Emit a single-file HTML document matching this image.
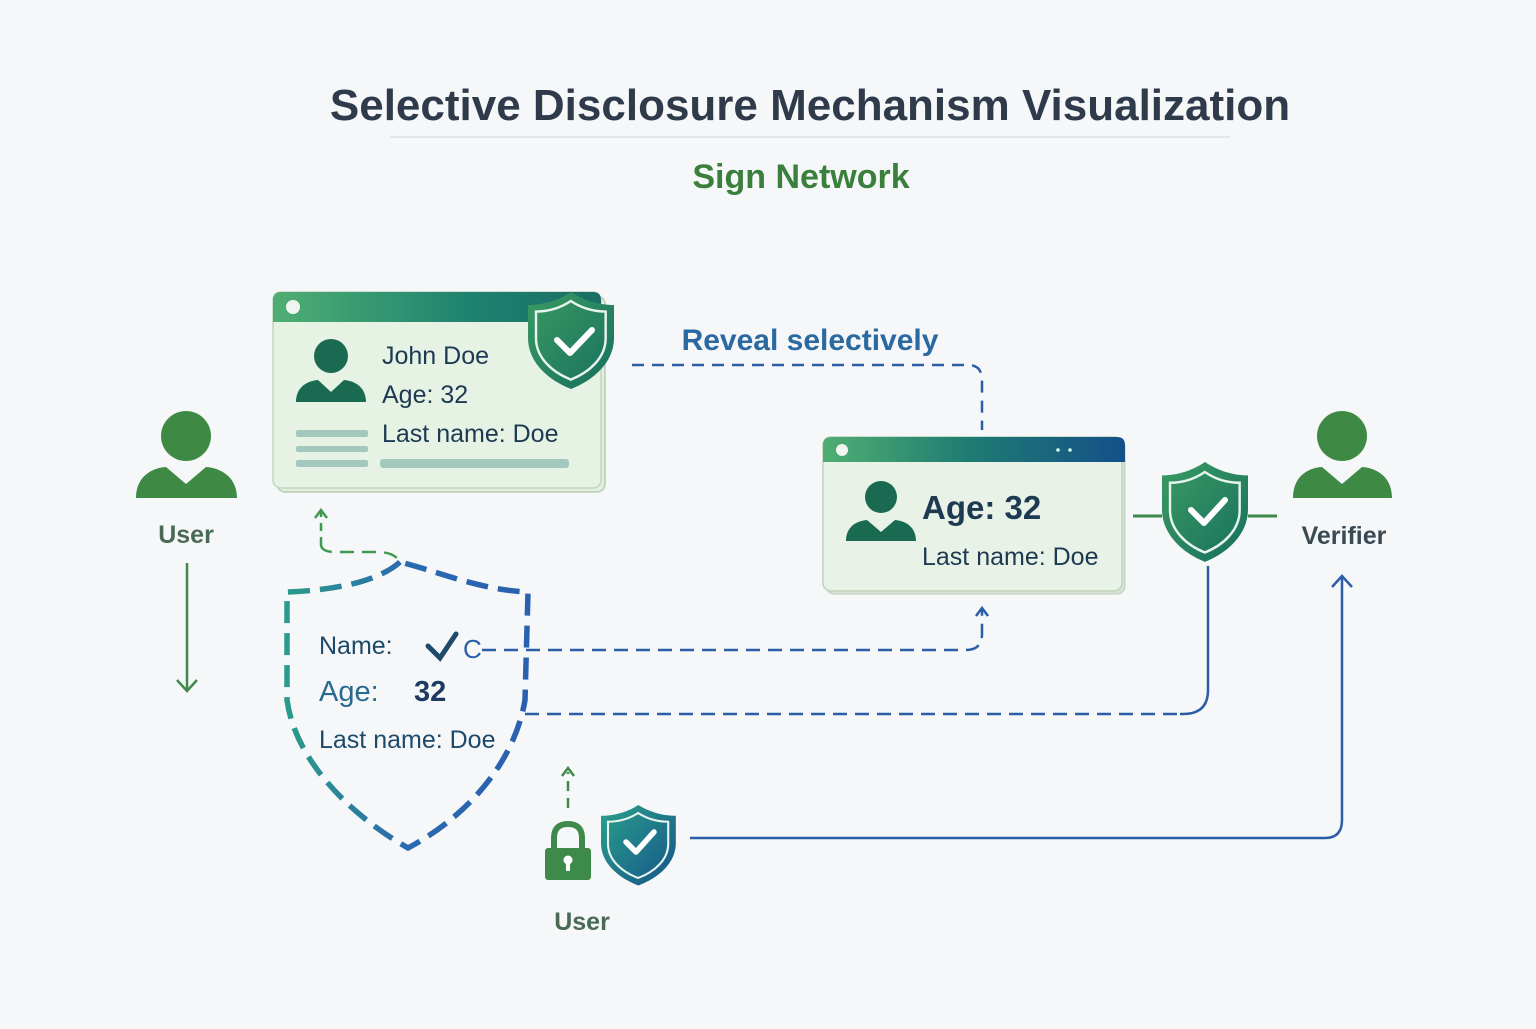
<!DOCTYPE html>
<html><head><meta charset="utf-8"><style>
body{margin:0;width:1536px;height:1024px;background:#f6f7f9;overflow:hidden;font-family:"Liberation Sans","DejaVu Sans",sans-serif}
</style></head><body>
<svg width="1536" height="1024" viewBox="0 0 1536 1024" xmlns="http://www.w3.org/2000/svg">
<defs>
<linearGradient id="hdr" x1="0" x2="1"><stop offset="0" stop-color="#4fae72"/><stop offset="0.6" stop-color="#1e8270"/><stop offset="1" stop-color="#1a6e66"/></linearGradient>
<linearGradient id="hdr2" x1="0" x2="1"><stop offset="0" stop-color="#4fae72"/><stop offset="0.5" stop-color="#1e7a72"/><stop offset="1" stop-color="#15508a"/></linearGradient>
<linearGradient id="sh" x1="0" y1="0" x2="1" y2="1"><stop offset="0" stop-color="#3a9a62"/><stop offset="1" stop-color="#17705e"/></linearGradient>
<linearGradient id="sh2" x1="0" y1="0" x2="1" y2="1"><stop offset="0" stop-color="#2aa08a"/><stop offset="1" stop-color="#16548a"/></linearGradient>
<linearGradient id="big" x1="0" x2="1"><stop offset="0" stop-color="#2a9a8a"/><stop offset="0.5" stop-color="#2a6ab0"/><stop offset="1" stop-color="#2a60b0"/></linearGradient>
<path id="shp" d="M43 0 C58 10 74 13 86 13 L86 46 C86 70 66 88 43 97 C20 88 0 70 0 46 L0 13 C12 13 28 10 43 0Z"/>
</defs>

<text x="810" y="120" text-anchor="middle" font-size="44" font-weight="bold" fill="#2f3b4a">Selective Disclosure Mechanism Visualization</text>
<line x1="390" y1="137" x2="1230" y2="137" stroke="#e2e6ea" stroke-width="2"/>
<text x="801" y="188" text-anchor="middle" font-size="34" font-weight="bold" fill="#3b7f3c">Sign Network</text>

<!-- left user -->
<circle cx="186" cy="436" r="25" fill="#3e8a44"/>
<path d="M136 498 C136 478 150 468 166 467 L186 484 L206 467 C222 468 237 478 237 498Z" fill="#3e8a44"/>
<text x="186" y="543" text-anchor="middle" font-size="25" font-weight="bold" fill="#4a6a55">User</text>
<line x1="187" y1="563" x2="187" y2="690" stroke="#3e8a4a" stroke-width="2.5"/>
<path d="M177 680 L187 691 L197 680" fill="none" stroke="#3e8a4a" stroke-width="2.5"/>

<!-- left card -->
<rect x="277" y="296" width="328" height="196" rx="8" fill="#dfeedd" stroke="#b9cdb5" stroke-width="1.5"/>
<rect x="273" y="292" width="328" height="196" rx="8" fill="#e6f2e4" stroke="#c3d6c0" stroke-width="1.5"/>
<path d="M281 292 H593 Q601 292 601 300 V322 H273 V300 Q273 292 281 292Z" fill="url(#hdr)"/>
<circle cx="293" cy="307" r="7" fill="#f0f5f0"/>
<circle cx="331" cy="356" r="17" fill="#1a6a52"/>
<path d="M296 402 C296 388 306 381 318 380 L331 392 L344 380 C356 381 366 388 366 402Z" fill="#1a6a52"/>
<g font-size="25" fill="#1d3a52"><text x="382" y="364">John Doe</text><text x="382" y="403">Age: 32</text><text x="382" y="442">Last name: Doe</text></g>
<rect x="296" y="430" width="72" height="7" rx="2" fill="#a3c9bf"/>
<rect x="296" y="446" width="72" height="6" rx="2" fill="#a3c9bf"/>
<rect x="296" y="460" width="72" height="7" rx="2" fill="#a3c9bf"/>
<rect x="380" y="459" width="189" height="9" rx="3" fill="#a3c9bf"/>
<use href="#shp" transform="translate(528,292)" fill="url(#sh)"/>
<use href="#shp" transform="translate(536,301) scale(0.81)" fill="none" stroke="#e8f4ee" stroke-width="3"/>
<path d="M557 340 L570 353 L592 330" fill="none" stroke="#fff" stroke-width="6" stroke-linecap="round" stroke-linejoin="round"/>

<!-- reveal -->
<text x="810" y="350" text-anchor="middle" font-size="30" font-weight="bold" fill="#2a6aa0">Reveal selectively</text>
<path d="M632 365 H968 Q982 365 982 380 V430" fill="none" stroke="#2a5ea8" stroke-width="2.5" stroke-dasharray="12 8"/>

<!-- right card -->
<rect x="826" y="440" width="299" height="154" rx="8" fill="#d6e4d6" stroke="#b9cdb5"/>
<rect x="823" y="437" width="299" height="154" rx="8" fill="#e8f2e6" stroke="#bfd2bc" stroke-width="1.5"/>
<path d="M831 437 H1117 Q1125 437 1125 445 V462 H823 V445 Q823 437 831 437Z" fill="url(#hdr2)"/>
<circle cx="842" cy="450" r="6" fill="#f0f5f0"/>
<circle cx="1058" cy="450" r="1.8" fill="#cfe"/><circle cx="1070" cy="450" r="1.8" fill="#cfe"/>
<circle cx="881" cy="497" r="16" fill="#1a6a52"/>
<path d="M846 541 C846 527 856 521 867 520 L881 532 L895 520 C906 521 916 527 916 541Z" fill="#1a6a52"/>
<text x="922" y="519" font-size="33" font-weight="bold" fill="#1d3a52">Age: 32</text>
<text x="922" y="565" font-size="25" fill="#1d3a52">Last name: Doe</text>

<!-- right shield -->
<line x1="1133" y1="516" x2="1162" y2="516" stroke="#3e8a4a" stroke-width="3"/>
<line x1="1248" y1="516" x2="1277" y2="516" stroke="#3e8a4a" stroke-width="3"/>
<use href="#shp" transform="translate(1162,462) scale(1,1.03)" fill="url(#sh)"/>
<use href="#shp" transform="translate(1170,472) scale(0.81,0.83)" fill="none" stroke="#e8f4ee" stroke-width="3"/>
<path d="M1191 510 L1204 523 L1225 500" fill="none" stroke="#fff" stroke-width="6" stroke-linecap="round" stroke-linejoin="round"/>

<!-- verifier -->
<circle cx="1342" cy="436" r="25" fill="#3e8a44"/>
<path d="M1293 498 C1293 478 1306 468 1322 467 L1342 484 L1362 467 C1378 468 1392 478 1392 498Z" fill="#3e8a44"/>
<text x="1344" y="544" text-anchor="middle" font-size="25" font-weight="bold" fill="#3a4a55">Verifier</text>

<!-- green connector -->
<path d="M321 545 V512" fill="none" stroke="#3e9a50" stroke-width="2.5" stroke-dasharray="8 6"/>
<path d="M315 518 L321 510 L327 518" fill="none" stroke="#3e9a50" stroke-width="2.5"/>
<path d="M321 545 Q322 552 335 552 H380 Q395 553 400 562" fill="none" stroke="#3e9a50" stroke-width="2.5" stroke-dasharray="14 8"/>

<!-- big dashed shield -->
<path d="M400 562 C380 580 340 590 287 592 L287 700 C295 760 350 815 408 848 C470 815 515 760 525 700 L528 592 C480 590 440 572 400 562Z" fill="none" stroke="url(#big)" stroke-width="5.5" stroke-dasharray="22 10"/>
<g font-size="25" fill="#1d4a6a"><text x="319" y="654">Name:</text><text x="319" y="701" font-size="29" fill="#2a6a90">Age:</text><text x="414" y="701" font-size="29" font-weight="bold" fill="#1d3a62">32</text><text x="319" y="748">Last name: Doe</text></g>
<path d="M428 646 L440 658 L456 634" fill="none" stroke="#1d4a6a" stroke-width="5" stroke-linecap="round"/>
<text x="463" y="658" font-size="26" fill="#2a5ea8">C</text>

<!-- blue connectors -->
<path d="M482 650 H966 Q982 650 982 634 V610" fill="none" stroke="#2a5ea8" stroke-width="2.5" stroke-dasharray="14 8"/>
<path d="M976 616 L982 608 L988 616" fill="none" stroke="#2a5ea8" stroke-width="2.5"/>
<path d="M525 714 H1183" fill="none" stroke="#2a5ea8" stroke-width="2.5" stroke-dasharray="14 8"/>
<path d="M1180 714 H1183 Q1208 714 1208 690 V566" fill="none" stroke="#2a5ea8" stroke-width="2.5"/>
<path d="M690 838 H1325 Q1342 838 1342 820 V577" fill="none" stroke="#2a5ea8" stroke-width="2.5"/>
<path d="M1332 587 L1342 576 L1352 587" fill="none" stroke="#2a5ea8" stroke-width="2.5"/>

<!-- lock & small shield -->
<path d="M568 808 V772" fill="none" stroke="#3e8a4a" stroke-width="2.5" stroke-dasharray="10 7"/>
<path d="M562 776 L568 768 L574 776" fill="none" stroke="#3e8a4a" stroke-width="2.5"/>
<path d="M554 850 V838 Q554 824 568 824 Q582 824 582 838 V850" fill="none" stroke="#3e8a4a" stroke-width="6"/>
<rect x="545" y="848" width="46" height="32" rx="3" fill="#3e8a4a"/>
<circle cx="568" cy="860" r="4.5" fill="#fff"/><rect x="566" y="861" width="4" height="10" fill="#fff"/>
<use href="#shp" transform="translate(601,805) scale(0.87,0.83)" fill="url(#sh2)"/>
<use href="#shp" transform="translate(608,813) scale(0.7,0.67)" fill="none" stroke="#e8f4ee" stroke-width="3"/>
<path d="M626 842 L636 852 L654 832" fill="none" stroke="#fff" stroke-width="5.5" stroke-linecap="round" stroke-linejoin="round"/>
<text x="582" y="930" text-anchor="middle" font-size="25" font-weight="bold" fill="#4a6a55">User</text>
</svg>
</body></html>
